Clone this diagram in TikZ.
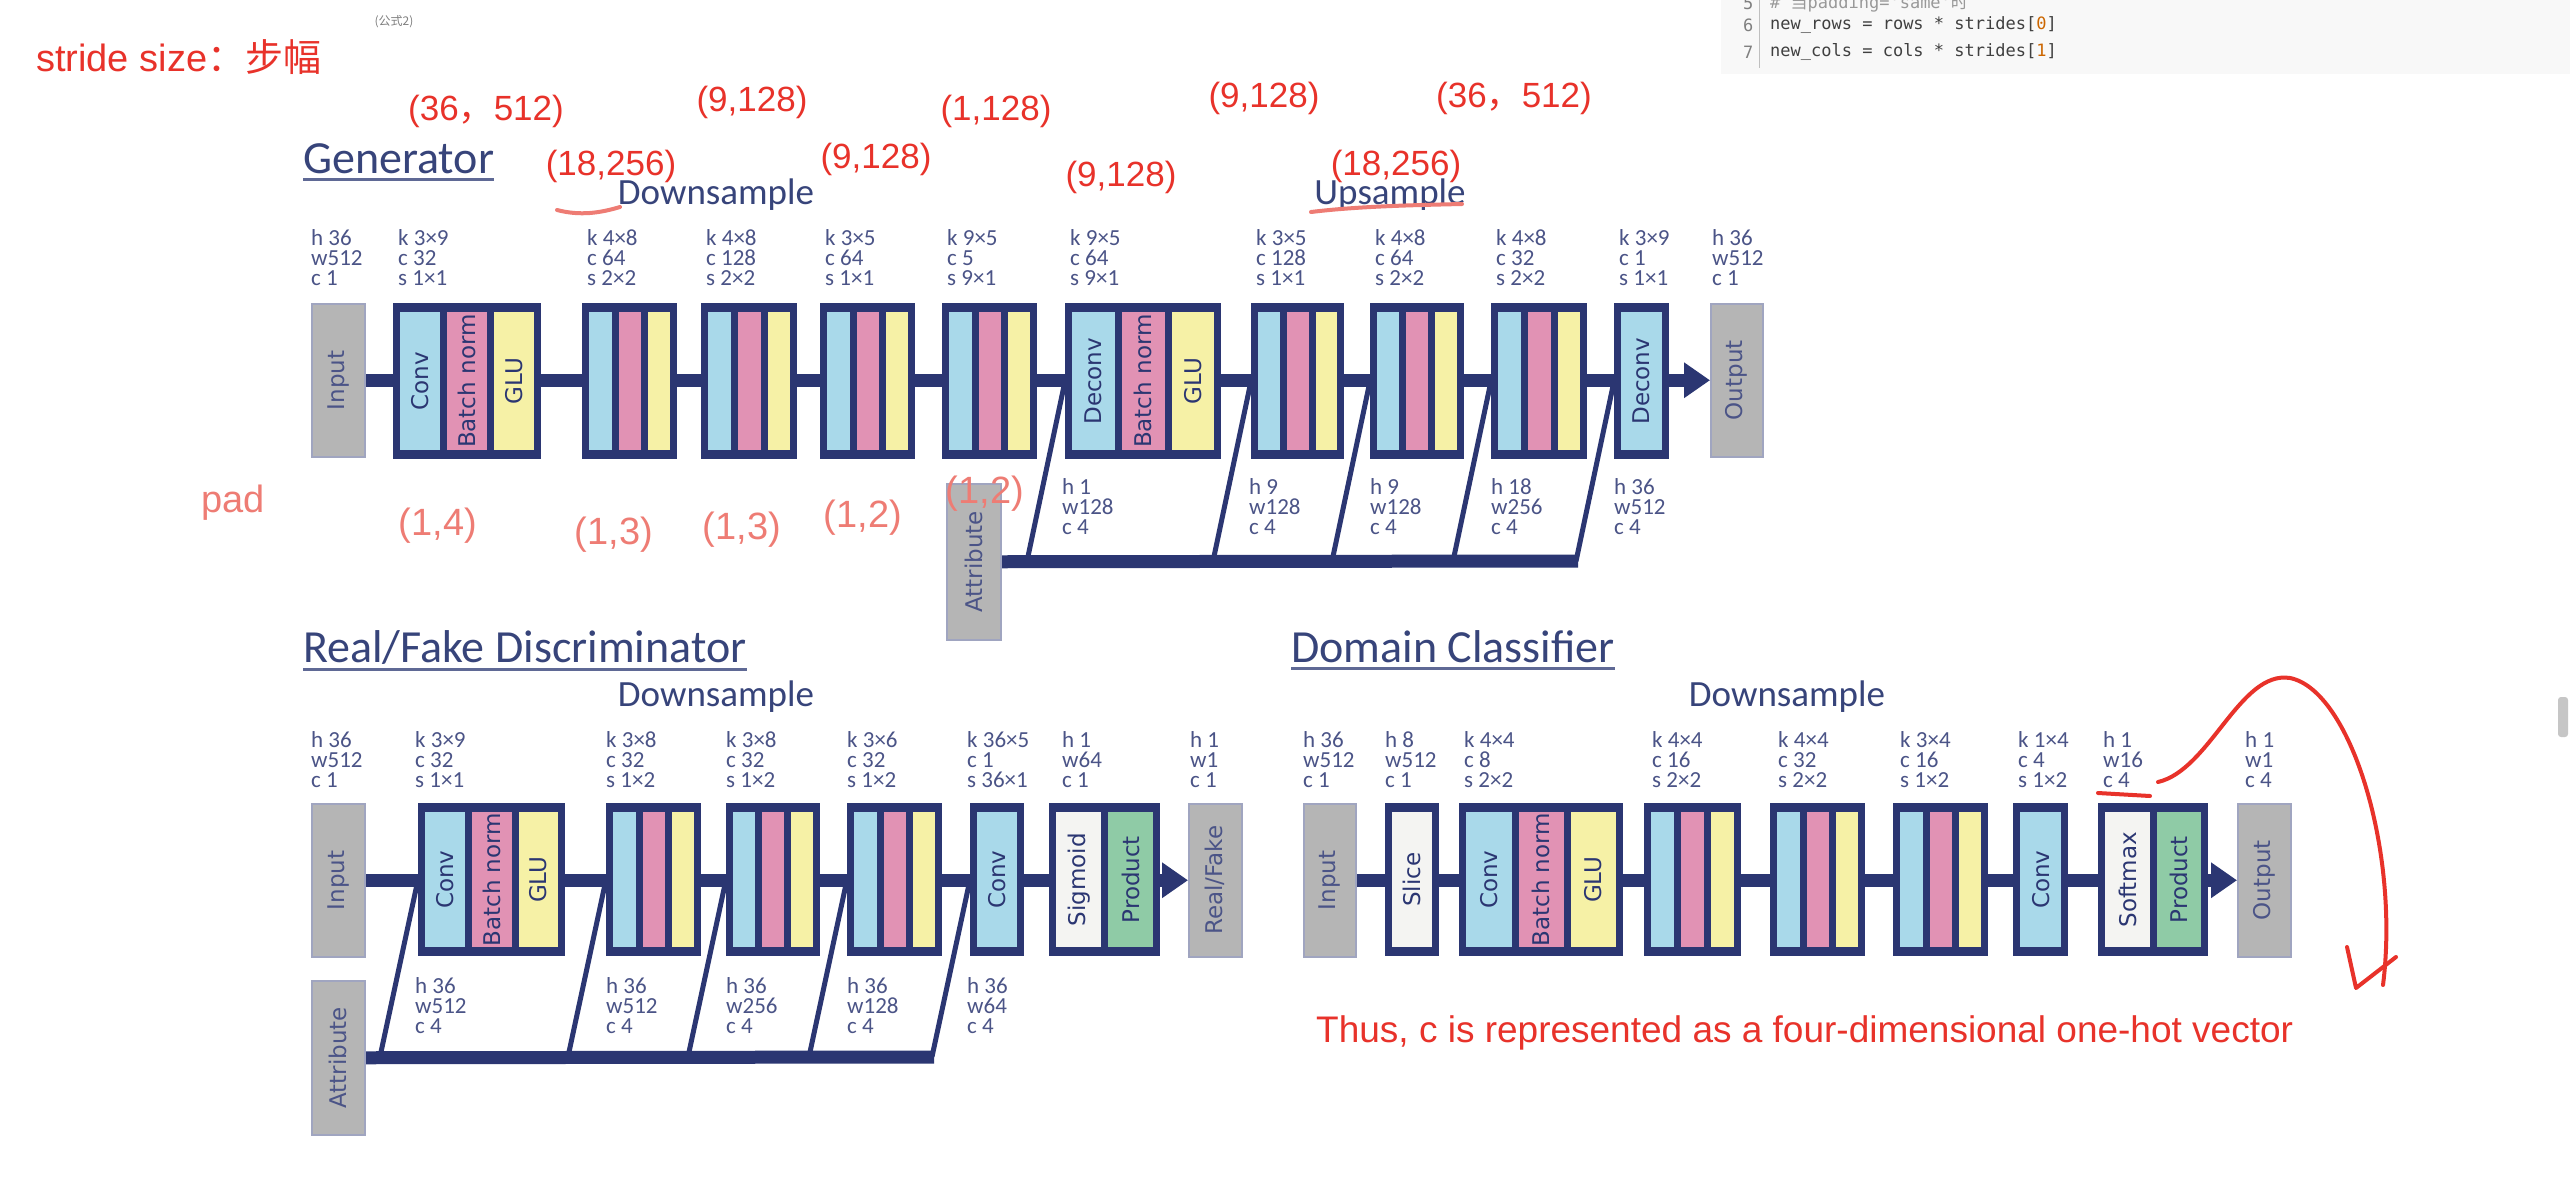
\documentclass[tikz,border=0pt]{standalone}
\usepackage{fontspec}
\setmainfont{Carlito}
\newfontfamily\blkf{DejaVu Sans}
\newfontfamily\redf{Liberation Sans}
\newfontfamily\cjkf{Noto Sans CJK SC}
\newfontfamily\monof{DejaVu Sans Mono}
\usetikzlibrary{arrows.meta}
\pgfdeclarelayer{bgzero}
\pgfdeclarelayer{lines}
\pgfsetlayers{bgzero,lines,main}
\definecolor{navy}{HTML}{2B3672}
\definecolor{cblue}{HTML}{A9D9EA}
\definecolor{cpink}{HTML}{E192B4}
\definecolor{cyel}{HTML}{F6F1A6}
\definecolor{cgray}{HTML}{B5B5B5}
\definecolor{cgreen}{HTML}{8FCBA6}
\definecolor{cwhite}{HTML}{F4F4F2}
\definecolor{ttl}{HTML}{37447A}
\definecolor{redc}{HTML}{E8322A}
\definecolor{salm}{HTML}{EE7C74}
\definecolor{codebg}{HTML}{F8F8F8}
\newcommand\grp[7]{%
 \pgfmathsetmacro\gW{#3-#2}\pgfmathsetmacro\gH{#5-#4}%
 \node[grpbox,minimum width=\gW pt,minimum height=\gH pt,anchor=north west] (#1) at (#2,#4) {};%
 \pgfmathsetmacro\sw{(\gW-(#6+1)*7)/#6}%
 \foreach \cc/\tx [count=\i from 0] in {#7} {%
   \node[stripe,fill=\cc,minimum width=\sw pt,minimum height={\gH pt-18pt},anchor=north west] (#1-\i) at ({#2+7+\i*(\sw+7)},{#4+9}) {};%
   \node[blktxt] at (#1-\i) {\tx};%
 }}
\newcommand\gbx[6]{%
 \pgfmathsetmacro\gW{#3-#2}\pgfmathsetmacro\gH{#5-#4}%
 \node[gbox,minimum width=\gW pt,minimum height=\gH pt,anchor=north west] (#1) at (#2,#4) {};%
 \node[gtxt] at (#1) {#6};}
\newcommand\lab[4]{\node[lab] (#1) at (#2,#3) {#4};}
\begin{document}
\begin{tikzpicture}[x=1pt,y=-1pt,
  grpbox/.style={fill=navy,draw=none,inner sep=0pt},
  stripe/.style={draw=none,inner sep=0pt},
  blktxt/.style={rotate=90,text=navy,font=\blkf\fontsize{23}{24}\selectfont,inner sep=0pt},
  gbox/.style={fill=cgray,draw=navy!45,line width=1.5pt,inner sep=0pt},
  gtxt/.style={rotate=90,text=navy!85,font=\blkf\fontsize{23}{24}\selectfont,inner sep=0pt},
  lab/.style={anchor=north west,align=left,inner sep=0pt,text=navy!85,font=\fontsize{23}{20}\selectfont},
  mainln/.style={navy,line width=13pt},
  diag/.style={navy,line width=5pt},
  ttlnode/.style={anchor=west,inner sep=0pt,text=ttl,font=\fontsize{46}{48}\selectfont},
  sub/.style={inner sep=0pt,text=ttl,font=\fontsize{37}{38}\selectfont},
  redt/.style={inner sep=0pt,text=redc,font=\redf\fontsize{35}{36}\selectfont},
  hand/.style={inner sep=0pt,text=salm,font=\redf\fontsize{38}{40}\selectfont},
  codet/.style={anchor=west,inner sep=0pt,font=\monof\fontsize{17}{18}\selectfont}]
\useasboundingbox (0,0) rectangle (2570,1178);
\begin{pgfonlayer}{bgzero}
\fill[white] (0,0) rectangle (2570,1178);
\end{pgfonlayer}

% code box
\node[fill=codebg,draw=none,minimum width=849pt,minimum height=74pt,anchor=north west,inner sep=0pt] (code) at (1721,0) {};
\draw[gray!50,line width=1pt] (1759,0) -- (1759,68);
\node[codet,text=gray] (c5n) at (1743,3) {5};
\node[codet,text=gray!80] (c5t) at (1770,3) {\# {\cjkf 当}padding='same'{\cjkf 时}};
\node[codet,text=gray] (c6n) at (1743,25) {6};
\node[codet,text=black!75] (c6t) at (1770,25) {new\_rows = rows * strides[{\color{orange!80!black}0}]};
\node[codet,text=gray] (c7n) at (1743,52) {7};
\node[codet,text=black!75] (c7t) at (1770,52) {new\_cols = cols * strides[{\color{orange!80!black}1}]};
\node[fill=gray!45,rounded corners=3pt,minimum width=10pt,minimum height=40pt,inner sep=0pt] (scroll) at (2563,717) {};
\node[inner sep=0pt,text=gray,font=\cjkf\fontsize{12}{13}\selectfont] (gs) at (394,22) {(公式2)};

% red annotations
\node[redt,anchor=west,font=\redf\fontsize{38}{40}\selectfont] (stride) at (36,57) {stride size{\cjkf ：步幅}};
\node[redt] (r1) at (486,111) {(36{\cjkf ，}512)};
\node[redt] (r2) at (611,166) {(18,256)};
\node[redt] (r3) at (752,102) {(9,128)};
\node[redt] (r4) at (876,159) {(9,128)};
\node[redt] (r5) at (996,111) {(1,128)};
\node[redt] (r6) at (1121,177) {(9,128)};
\node[redt] (r7) at (1264,98) {(9,128)};
\node[redt] (r8) at (1396,166) {(18,256)};
\node[redt] (r9) at (1514,98) {(36{\cjkf ，}512)};

% titles
\node[ttlnode] (gt) at (303,159) {Generator};
\draw[ttl!80,line width=3pt] ([yshift=-5pt]gt.south west) -- ([yshift=-5pt]gt.south east);
\node[sub] (gds) at (716,195) {Downsample};
\node[sub] (gus) at (1390,195) {Upsample};
\draw[salm,line width=4pt,line cap=round] (557,210) .. controls (580,216) and (600,213) .. (620,207);
\draw[salm,line width=4pt,line cap=round] (1311,212) .. controls (1360,206) and (1420,205) .. (1462,204);

% ===== Generator =====
\gbx{gin}{311}{364}{303}{456}{Input}
\grp{g1}{393}{541}{303}{459}{3}{cblue/Conv,cpink/Batch norm,cyel/GLU}
\grp{g2}{582}{677}{303}{459}{3}{cblue/,cpink/,cyel/}
\grp{g3}{701}{797}{303}{459}{3}{cblue/,cpink/,cyel/}
\grp{g4}{820}{915}{303}{459}{3}{cblue/,cpink/,cyel/}
\grp{g5}{942}{1037}{303}{459}{3}{cblue/,cpink/,cyel/}
\grp{g6}{1065}{1221}{303}{459}{3}{cblue/Deconv,cpink/Batch norm,cyel/GLU}
\grp{g7}{1251}{1344}{303}{459}{3}{cblue/,cpink/,cyel/}
\grp{g8}{1370}{1464}{303}{459}{3}{cblue/,cpink/,cyel/}
\grp{g9}{1491}{1587}{303}{459}{3}{cblue/,cpink/,cyel/}
\grp{g10}{1614}{1669}{303}{459}{1}{cblue/Deconv}
\gbx{gout}{1710}{1762}{303}{456}{Output}
\gbx{gatt}{946}{1000}{483}{639}{Attribute}
\coordinate (gaend) at (1578,561);
\begin{pgfonlayer}{lines}
\draw[mainln,-{Triangle[length=26pt,width=34pt]}] (gin.east) -- (gout.west);
\draw[mainln] (gatt.east) -- (gaend);
\foreach \g in {g6,g7,g8,g9,g10} \draw[diag] (\g.west) -- ++(-38,180);
\end{pgfonlayer}
\lab{gl0}{311}{229}{h 36\\w512\\c 1}
\lab{gl1}{398}{229}{k 3×9\\c 32\\s 1×1}
\lab{gl2}{587}{229}{k 4×8\\c 64\\s 2×2}
\lab{gl3}{706}{229}{k 4×8\\c 128\\s 2×2}
\lab{gl4}{825}{229}{k 3×5\\c 64\\s 1×1}
\lab{gl5}{947}{229}{k 9×5\\c 5\\s 9×1}
\lab{gl6}{1070}{229}{k 9×5\\c 64\\s 9×1}
\lab{gl7}{1256}{229}{k 3×5\\c 128\\s 1×1}
\lab{gl8}{1375}{229}{k 4×8\\c 64\\s 2×2}
\lab{gl9}{1496}{229}{k 4×8\\c 32\\s 2×2}
\lab{gl10}{1619}{229}{k 3×9\\c 1\\s 1×1}
\lab{gl11}{1712}{229}{h 36\\w512\\c 1}
\lab{gb6}{1062}{478}{h 1\\w128\\c 4}
\lab{gb7}{1249}{478}{h 9\\w128\\c 4}
\lab{gb8}{1370}{478}{h 9\\w128\\c 4}
\lab{gb9}{1491}{478}{h 18\\w256\\c 4}
\lab{gb10}{1614}{478}{h 36\\w512\\c 4}

% handwritten
\node[hand] (pad) at (233,503) {pad};
\node[hand] (p1) at (438,526) {(1,4)};
\node[hand] (p2) at (614,535) {(1,3)};
\node[hand] (p3) at (742,530) {(1,3)};
\node[hand] (p4) at (863,518) {(1,2)};
\node[hand] (p5) at (985,494) {(1,2)};

% ===== Discriminator =====
\node[ttlnode] (dt) at (303,647) {Real/Fake Discriminator};
\draw[ttl!80,line width=3pt] ([yshift=-5pt]dt.south west) -- ([yshift=-5pt]dt.south east);
\node[sub] (dds) at (716,697) {Downsample};
\gbx{din}{311}{364}{803}{956}{Input}
\grp{d1}{418}{565}{803}{956}{3}{cblue/Conv,cpink/Batch norm,cyel/GLU}
\grp{d2}{606}{701}{803}{956}{3}{cblue/,cpink/,cyel/}
\grp{d3}{726}{820}{803}{956}{3}{cblue/,cpink/,cyel/}
\grp{d4}{847}{942}{803}{956}{3}{cblue/,cpink/,cyel/}
\grp{d5}{970}{1024}{803}{956}{1}{cblue/Conv}
\grp{d6}{1049}{1160}{803}{956}{2}{cwhite/Sigmoid,cgreen/Product}
\gbx{dout}{1188}{1241}{803}{956}{Real/Fake}
\gbx{datt}{311}{364}{980}{1134}{Attribute}
\coordinate (daend) at (934,1057);
\begin{pgfonlayer}{lines}
\draw[mainln,-{Triangle[length=26pt,width=34pt]}] (din.east) -- (dout.west);
\draw[mainln] (datt.east) -- (daend);
\foreach \g in {d1,d2,d3,d4,d5} \draw[diag] (\g.west) -- ++(-38,177);
\end{pgfonlayer}
\lab{dl0}{311}{731}{h 36\\w512\\c 1}
\lab{dl1}{415}{731}{k 3×9\\c 32\\s 1×1}
\lab{dl2}{606}{731}{k 3×8\\c 32\\s 1×2}
\lab{dl3}{726}{731}{k 3×8\\c 32\\s 1×2}
\lab{dl4}{847}{731}{k 3×6\\c 32\\s 1×2}
\lab{dl5}{967}{731}{k 36×5\\c 1\\s 36×1}
\lab{dl6}{1062}{731}{h 1\\w64\\c 1}
\lab{dl7}{1190}{731}{h 1\\w1\\c 1}
\lab{db1}{415}{977}{h 36\\w512\\c 4}
\lab{db2}{606}{977}{h 36\\w512\\c 4}
\lab{db3}{726}{977}{h 36\\w256\\c 4}
\lab{db4}{847}{977}{h 36\\w128\\c 4}
\lab{db5}{967}{977}{h 36\\w64\\c 4}

% ===== Domain classifier =====
\node[ttlnode] (ct) at (1291,647) {Domain Classifier};
\draw[ttl!80,line width=3pt] ([yshift=-5pt]ct.south west) -- ([yshift=-5pt]ct.south east);
\node[sub] (cds) at (1787,697) {Downsample};
\gbx{cin}{1303}{1355}{803}{956}{Input}
\grp{c1}{1385}{1439}{803}{956}{1}{cwhite/Slice}
\grp{c2}{1459}{1623}{803}{956}{3}{cblue/Conv,cpink/Batch norm,cyel/GLU}
\grp{c3}{1644}{1741}{803}{956}{3}{cblue/,cpink/,cyel/}
\grp{c4}{1770}{1865}{803}{956}{3}{cblue/,cpink/,cyel/}
\grp{c5}{1893}{1988}{803}{956}{3}{cblue/,cpink/,cyel/}
\grp{c6}{2013}{2068}{803}{956}{1}{cblue/Conv}
\grp{c7}{2098}{2208}{803}{956}{2}{cwhite/Softmax,cgreen/Product}
\gbx{cout}{2237}{2290}{803}{956}{Output}
\begin{pgfonlayer}{lines}
\draw[mainln,-{Triangle[length=26pt,width=34pt]}] (cin.east) -- (cout.west);
\end{pgfonlayer}
\lab{cl0}{1303}{731}{h 36\\w512\\c 1}
\lab{cl1}{1385}{731}{h 8\\w512\\c 1}
\lab{cl2}{1464}{731}{k 4×4\\c 8\\s 2×2}
\lab{cl3}{1652}{731}{k 4×4\\c 16\\s 2×2}
\lab{cl4}{1778}{731}{k 4×4\\c 32\\s 2×2}
\lab{cl5}{1900}{731}{k 3×4\\c 16\\s 1×2}
\lab{cl6}{2018}{731}{k 1×4\\c 4\\s 1×2}
\lab{cl7}{2103}{731}{h 1\\w16\\c 4}
\lab{cl8}{2245}{731}{h 1\\w1\\c 4}

\draw[redc,line width=4pt,line cap=round] (2098,793) -- (2150,796);
\draw[redc,line width=4pt,line cap=round] (2158,782) .. controls (2210,770) and (2240,670) .. (2290,678) .. controls (2350,690) and (2400,850) .. (2383,985);
\draw[redc,line width=4pt,line cap=round,line join=round] (2347,947) -- (2356,988) -- (2396,957);
\node[redt,anchor=west,font=\redf\fontsize{37}{39}\selectfont] (thus) at (1316,1033) {Thus, c is represented as a four-dimensional one-hot vector};
\end{tikzpicture}
\end{document}
